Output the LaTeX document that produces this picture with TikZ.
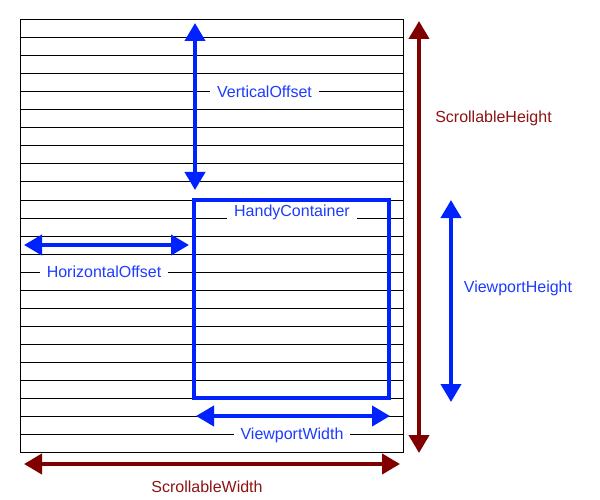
\documentclass[tikz,border=0pt]{standalone}
\usepackage{fontspec}
\setmainfont{Liberation Sans}
\usetikzlibrary{arrows.meta}
\definecolor{vblue}{RGB}{0,34,255}
\definecolor{tblue}{RGB}{30,60,255}
\definecolor{dred}{RGB}{128,0,0}
\definecolor{tred}{RGB}{140,20,20}
\tikzset{
  gridline/.style={draw=black, line width=1pt},
  bluearrow/.style={draw=vblue, line width=4pt, {Triangle[length=18pt,width=20pt]}-{Triangle[length=18pt,width=20pt]}},
  redarrow/.style={draw=dred, line width=4pt, {Triangle[length=18pt,width=20pt]}-{Triangle[length=18pt,width=20pt]}},
  bluelabel/.style={fill=white, text=tblue, inner xsep=7pt, inner ysep=3pt, font=\fontsize{16}{19}\selectfont},
  redlabel/.style={text=tred, inner sep=2pt, font=\fontsize{16}{19}\selectfont},
  viewbox/.style={draw=vblue, line width=3.5pt}
}
\begin{document}
\begin{tikzpicture}[x=1pt,y=-1pt]
\path[use as bounding box, fill=white] (0,0) rectangle (600,500);
% content area
\draw[gridline] (20,20) rectangle (403,452);
\foreach \i in {1,...,23} {
  \draw[gridline] (20,20+18*\i) -- (403,20+18*\i);
}
% viewport box
\draw[viewbox] (194,200) rectangle (389,398);
\node[bluelabel] (hc) at (292,212) {HandyContainer};
% vertical offset
\coordinate (vo1) at (195,23);
\coordinate (vo2) at (195,190);
\draw[bluearrow] (vo1) -- (vo2);
\node[bluelabel] (vol) at (264.5,91.5) {VerticalOffset};
% horizontal offset
\coordinate (ho1) at (24,245);
\coordinate (ho2) at (189,245);
\draw[bluearrow] (ho1) -- (ho2);
\node[bluelabel] (hol) at (104,271.5) {HorizontalOffset};
% viewport width
\coordinate (vw1) at (196,416);
\coordinate (vw2) at (390,416);
\draw[bluearrow] (vw1) -- (vw2);
\node[bluelabel] (vwl) at (292,435.5) {ViewportWidth};
% viewport height
\coordinate (vh1) at (451,200);
\coordinate (vh2) at (451,402);
\draw[bluearrow] (vh1) -- (vh2);
\node[text=tblue, font=\fontsize{16}{19}\selectfont] (vhl) at (518,288) {ViewportHeight};
% scrollable height
\coordinate (sh1) at (419,21);
\coordinate (sh2) at (419,453);
\draw[redarrow] (sh1) -- (sh2);
\node[redlabel] (shl) at (493.5,118) {ScrollableHeight};
% scrollable width
\coordinate (sw1) at (24,464);
\coordinate (sw2) at (400,464);
\draw[redarrow] (sw1) -- (sw2);
\node[redlabel] (swl) at (207,486.5) {ScrollableWidth};
\end{tikzpicture}
\end{document}
